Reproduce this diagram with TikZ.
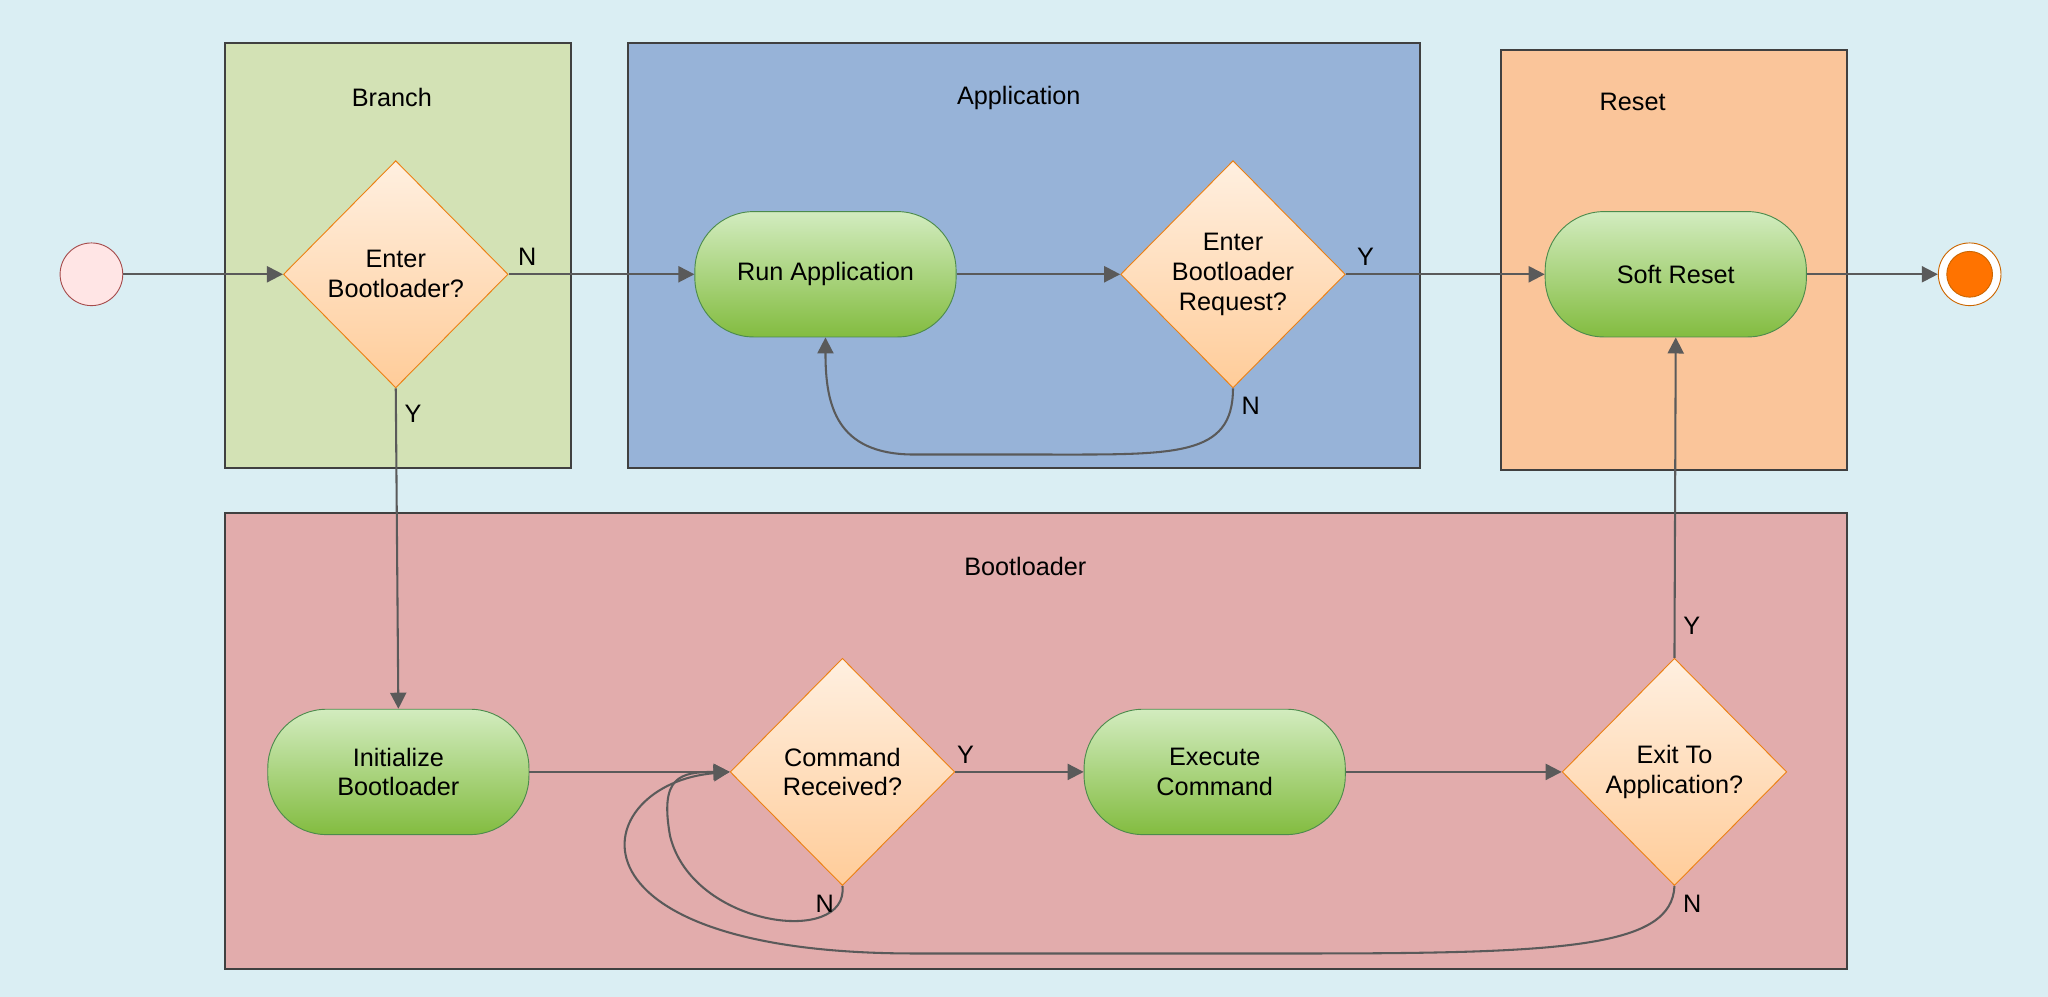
\documentclass[tikz,border=0pt]{standalone}
\usepackage{fontspec}
\setmainfont{Liberation Sans}
\usetikzlibrary{arrows.meta,shapes.geometric,positioning}
\definecolor{bgblue}{HTML}{DAEEF3}
\definecolor{lanegreen}{HTML}{D3E2B5}
\definecolor{laneblue}{HTML}{97B3D8}
\definecolor{laneorange}{HTML}{FAC59A}
\definecolor{lanepink}{HTML}{E2ACAC}
\definecolor{linegray}{HTML}{5A5A5A}
\begin{document}
\begin{tikzpicture}[
		x=0.02cm,y=-0.02cm,
		font=\fontsize{11}{13}\selectfont,
		lane/.style={draw=black!75,line width=0.8pt},
		title/.style={draw=none,fill=none},
		task/.style={
			draw=green!35!black!70,
			top color=green!40!olive!25,
			bottom color=green!30!olive!75,
			rounded corners=0.9cm,
			minimum width=4cm,
			minimum height=1.92cm,
			align=center
		},
		test/.style={
			draw=orange!70!brown,
			diamond,
			aspect=1,
			inner sep=0pt,
			top color=orange!12,
			bottom color=orange!40,
			minimum width=3.44cm,
			minimum height=3.48cm,
			align=center
		},
		flow/.style={draw=linegray,line width=0.9pt,-{Triangle[length=7pt,width=7pt]}},
		>=latex
		]
		\useasboundingbox[fill=bgblue] (0,0) rectangle (1568,763);
		% lanes
		\draw[lane,fill=lanegreen] (172,33) rectangle (437,358);
		\draw[lane,fill=laneblue] (481,33) rectangle (1087,358);
		\draw[lane,fill=laneorange] (1149,38) rectangle (1414,360);
		\draw[lane,fill=lanepink] (172,393) rectangle (1414,742);
		\node[title] (tbranch) at (300,75) {Branch};
		\node[title] (tapp) at (780,75) {Application};
		\node[title] (treset) at (1250,78) {Reset};
		\node[title] (tboot) at (785,434) {Bootloader};
		% nodes
		\node[circle,draw=red!50!black!70,fill=red!10,minimum size=0.96cm,inner sep=0] (start) at (70,210) {};
		\node[circle,draw=orange!80!black,fill=white,minimum size=0.96cm,inner sep=0] (stop) at (1508,210) {};
		\node[circle,draw=orange!80!black,fill=orange!90!red,minimum size=0.7cm,inner sep=0] (stopin) at (stop) {};
		\node[test] (enter) at (303,210) {Enter\\Bootloader?};
		\node[task] (run) at (632,210) {Run Application};
		\node[test] (request) at (944,210) {Enter\\Bootloader\\Request?};
		\node[task] (reset) at (1283,210) {Soft Reset};
		\node[task] (init) at (305,591) {Initialize\\Bootloader};
		\node[test] (cmd) at (645,591) {Command\\Received?};
		\node[task] (exec) at (930,591) {Execute\\Command};
		\node[test] (exit) at (1282,591) {Exit To\\Application?};
		% connectors
		\draw[flow] (start) -- (enter);
		\draw[flow] (enter.east) -- node[pos=0.1,above] {N} (run.west);
		\draw[flow] (enter.south) -- node[pos=0.08,right] {Y} (init.north);
		\draw[flow] (run) -- (request);
		\draw[flow] (request.east) -- node[pos=0.1,above] {Y} (reset.west);
		\draw[flow] (request.south) node[below right] {N} .. controls (944,350) and (900,348) .. (800,348)
			-- (700,348) .. controls (640,348) and (632,310) .. (run.south);
		\draw[flow] (reset) -- (stop);
		\draw[flow] (init.east) -- (cmd.west);
		\draw[flow] (cmd.east) -- node[pos=0.08,above] {Y} (exec.west);
		\draw[flow] (exec) -- (exit);
		\draw[flow] (exit.north) -- node[pos=0.1,right] {Y} (reset.south);
		\draw[flow] (cmd.south) node[below left] {N} .. controls (650,725) and (530,710) .. (513,640)
			.. controls (505,595) and (520,591) .. (cmd.west);
		\draw[flow] (exit.south) node[below right] {N} .. controls (1280,725) and (1200,730) .. (1000,730)
			-- (700,730) .. controls (420,730) and (450,600) .. (cmd.west);
	\end{tikzpicture}
\end{document}
